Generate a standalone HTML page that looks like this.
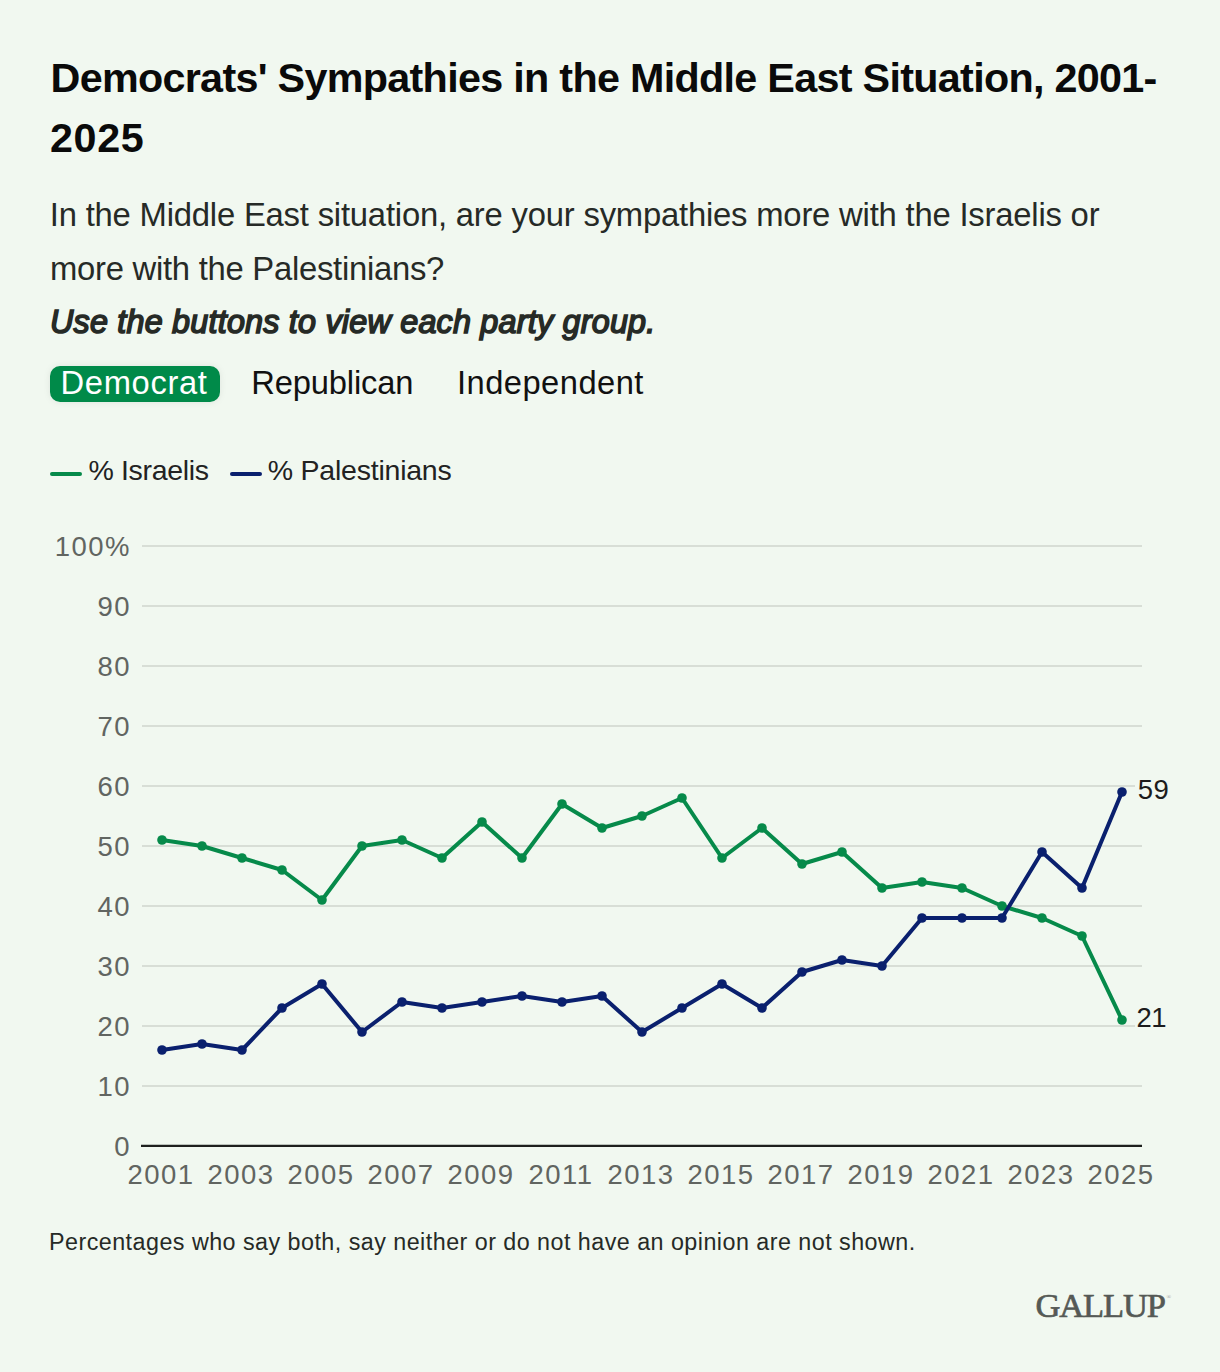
<!DOCTYPE html>
<html><head><meta charset="utf-8"><title>Democrats' Sympathies in the Middle East Situation, 2001-2025</title>
<style>html,body{margin:0;padding:0;background:#f1f8f0;}body{width:1220px;height:1372px;overflow:hidden;}svg{display:block;}</style>
</head><body>
<svg width="1220" height="1372" viewBox="0 0 1220 1372">
<defs><filter id="sh" x="-20%" y="-60%" width="140%" height="220%"><feDropShadow dx="0" dy="0" stdDeviation="3" flood-color="#000" flood-opacity="0.08"/></filter></defs>
<rect width="1220" height="1372" fill="#f1f8f0"/>
<line x1="142" y1="1086" x2="1142" y2="1086" stroke="#d8ded6" stroke-width="2"/>
<line x1="142" y1="1026" x2="1142" y2="1026" stroke="#d8ded6" stroke-width="2"/>
<line x1="142" y1="966" x2="1142" y2="966" stroke="#d8ded6" stroke-width="2"/>
<line x1="142" y1="906" x2="1142" y2="906" stroke="#d8ded6" stroke-width="2"/>
<line x1="142" y1="846" x2="1142" y2="846" stroke="#d8ded6" stroke-width="2"/>
<line x1="142" y1="786" x2="1142" y2="786" stroke="#d8ded6" stroke-width="2"/>
<line x1="142" y1="726" x2="1142" y2="726" stroke="#d8ded6" stroke-width="2"/>
<line x1="142" y1="666" x2="1142" y2="666" stroke="#d8ded6" stroke-width="2"/>
<line x1="142" y1="606" x2="1142" y2="606" stroke="#d8ded6" stroke-width="2"/>
<line x1="142" y1="546" x2="1142" y2="546" stroke="#d8ded6" stroke-width="2"/>
<line x1="141" y1="1145.9" x2="1142" y2="1145.9" stroke="#1e201e" stroke-width="2.2"/>
<polyline points="162,840 202,846 242,858 282,870 322,900 362,846 402,840 442,858 482,822 522,858 562,804 602,828 642,816 682,798 722,858 762,828 802,864 842,852 882,888 922,882 962,888 1002,906 1042,918 1082,936 1122,1020" fill="none" stroke="#068a4a" stroke-width="4" stroke-linejoin="round" stroke-linecap="round"/><circle cx="162" cy="840" r="4.8" fill="#068a4a"/><circle cx="202" cy="846" r="4.8" fill="#068a4a"/><circle cx="242" cy="858" r="4.8" fill="#068a4a"/><circle cx="282" cy="870" r="4.8" fill="#068a4a"/><circle cx="322" cy="900" r="4.8" fill="#068a4a"/><circle cx="362" cy="846" r="4.8" fill="#068a4a"/><circle cx="402" cy="840" r="4.8" fill="#068a4a"/><circle cx="442" cy="858" r="4.8" fill="#068a4a"/><circle cx="482" cy="822" r="4.8" fill="#068a4a"/><circle cx="522" cy="858" r="4.8" fill="#068a4a"/><circle cx="562" cy="804" r="4.8" fill="#068a4a"/><circle cx="602" cy="828" r="4.8" fill="#068a4a"/><circle cx="642" cy="816" r="4.8" fill="#068a4a"/><circle cx="682" cy="798" r="4.8" fill="#068a4a"/><circle cx="722" cy="858" r="4.8" fill="#068a4a"/><circle cx="762" cy="828" r="4.8" fill="#068a4a"/><circle cx="802" cy="864" r="4.8" fill="#068a4a"/><circle cx="842" cy="852" r="4.8" fill="#068a4a"/><circle cx="882" cy="888" r="4.8" fill="#068a4a"/><circle cx="922" cy="882" r="4.8" fill="#068a4a"/><circle cx="962" cy="888" r="4.8" fill="#068a4a"/><circle cx="1002" cy="906" r="4.8" fill="#068a4a"/><circle cx="1042" cy="918" r="4.8" fill="#068a4a"/><circle cx="1082" cy="936" r="4.8" fill="#068a4a"/><circle cx="1122" cy="1020" r="4.8" fill="#068a4a"/>
<polyline points="162,1050 202,1044 242,1050 282,1008 322,984 362,1032 402,1002 442,1008 482,1002 522,996 562,1002 602,996 642,1032 682,1008 722,984 762,1008 802,972 842,960 882,966 922,918 962,918 1002,918 1042,852 1082,888 1122,792" fill="none" stroke="#0a206e" stroke-width="4" stroke-linejoin="round" stroke-linecap="round"/><circle cx="162" cy="1050" r="4.8" fill="#0a206e"/><circle cx="202" cy="1044" r="4.8" fill="#0a206e"/><circle cx="242" cy="1050" r="4.8" fill="#0a206e"/><circle cx="282" cy="1008" r="4.8" fill="#0a206e"/><circle cx="322" cy="984" r="4.8" fill="#0a206e"/><circle cx="362" cy="1032" r="4.8" fill="#0a206e"/><circle cx="402" cy="1002" r="4.8" fill="#0a206e"/><circle cx="442" cy="1008" r="4.8" fill="#0a206e"/><circle cx="482" cy="1002" r="4.8" fill="#0a206e"/><circle cx="522" cy="996" r="4.8" fill="#0a206e"/><circle cx="562" cy="1002" r="4.8" fill="#0a206e"/><circle cx="602" cy="996" r="4.8" fill="#0a206e"/><circle cx="642" cy="1032" r="4.8" fill="#0a206e"/><circle cx="682" cy="1008" r="4.8" fill="#0a206e"/><circle cx="722" cy="984" r="4.8" fill="#0a206e"/><circle cx="762" cy="1008" r="4.8" fill="#0a206e"/><circle cx="802" cy="972" r="4.8" fill="#0a206e"/><circle cx="842" cy="960" r="4.8" fill="#0a206e"/><circle cx="882" cy="966" r="4.8" fill="#0a206e"/><circle cx="922" cy="918" r="4.8" fill="#0a206e"/><circle cx="962" cy="918" r="4.8" fill="#0a206e"/><circle cx="1002" cy="918" r="4.8" fill="#0a206e"/><circle cx="1042" cy="852" r="4.8" fill="#0a206e"/><circle cx="1082" cy="888" r="4.8" fill="#0a206e"/><circle cx="1122" cy="792" r="4.8" fill="#0a206e"/>
<rect x="1135" y="778" width="38" height="26" fill="#f1f8f0"/>
<rect x="1135" y="1006" width="38" height="26" fill="#f1f8f0"/>
<rect x="50" y="366" width="170" height="36" rx="10" fill="#068a4a" filter="url(#sh)"/>
<line x1="52" y1="474" x2="80" y2="474" stroke="#068a4a" stroke-width="4" stroke-linecap="round"/>
<line x1="232" y1="474" x2="260" y2="474" stroke="#0a206e" stroke-width="4" stroke-linecap="round"/>
<text x="50.5" y="91.8" fill="#0a0a0a" text-anchor="start" style="font-family:'Liberation Sans', Arial, sans-serif;font-size:41.3px;letter-spacing:-0.695px;font-weight:bold;">Democrats' Sympathies in the Middle East Situation, 2001-</text>
<text x="50.0" y="151.8" fill="#0a0a0a" text-anchor="start" style="font-family:'Liberation Sans', Arial, sans-serif;font-size:41.3px;letter-spacing:0.599px;font-weight:bold;">2025</text>
<text x="49.8" y="225.7" fill="#262a26" text-anchor="start" style="font-family:'Liberation Sans', Arial, sans-serif;font-size:32.8px;letter-spacing:-0.2px;">In the Middle East situation, are your sympathies more with the Israelis or</text>
<text x="50.0" y="279.8" fill="#262a26" text-anchor="start" style="font-family:'Liberation Sans', Arial, sans-serif;font-size:32.8px;letter-spacing:-0.258px;">more with the Palestinians?</text>
<text x="50.0" y="333.4" fill="#262a26" text-anchor="start" style="font-family:'Liberation Sans', Arial, sans-serif;font-size:32.3px;letter-spacing:0.23px;font-style:italic;stroke:#262a26;stroke-width:1.6px;">Use the buttons to view each party group.</text>
<text x="60.6" y="393.8" fill="#ffffff" text-anchor="start" style="font-family:'Liberation Sans', Arial, sans-serif;font-size:32.7px;letter-spacing:0.661px;">Democrat</text>
<text x="251.2" y="393.8" fill="#111111" text-anchor="start" style="font-family:'Liberation Sans', Arial, sans-serif;font-size:32.7px;letter-spacing:-0.136px;">Republican</text>
<text x="457.0" y="393.8" fill="#111111" text-anchor="start" style="font-family:'Liberation Sans', Arial, sans-serif;font-size:32.7px;letter-spacing:0.46px;">Independent</text>
<text x="88.4" y="479.9" fill="#222222" text-anchor="start" style="font-family:'Liberation Sans', Arial, sans-serif;font-size:28.5px;letter-spacing:-0.335px;">% Israelis</text>
<text x="267.8" y="479.9" fill="#222222" text-anchor="start" style="font-family:'Liberation Sans', Arial, sans-serif;font-size:28.5px;letter-spacing:-0.231px;">% Palestinians</text>
<text x="131" y="1155.6" fill="#616561" text-anchor="end" style="font-family:'Liberation Sans', Arial, sans-serif;font-size:27.5px;letter-spacing:1.5px;">0</text>
<text x="131" y="1095.6" fill="#616561" text-anchor="end" style="font-family:'Liberation Sans', Arial, sans-serif;font-size:27.5px;letter-spacing:1.5px;">10</text>
<text x="131" y="1035.6" fill="#616561" text-anchor="end" style="font-family:'Liberation Sans', Arial, sans-serif;font-size:27.5px;letter-spacing:1.5px;">20</text>
<text x="131" y="975.6" fill="#616561" text-anchor="end" style="font-family:'Liberation Sans', Arial, sans-serif;font-size:27.5px;letter-spacing:1.5px;">30</text>
<text x="131" y="915.6" fill="#616561" text-anchor="end" style="font-family:'Liberation Sans', Arial, sans-serif;font-size:27.5px;letter-spacing:1.5px;">40</text>
<text x="131" y="855.6" fill="#616561" text-anchor="end" style="font-family:'Liberation Sans', Arial, sans-serif;font-size:27.5px;letter-spacing:1.5px;">50</text>
<text x="131" y="795.6" fill="#616561" text-anchor="end" style="font-family:'Liberation Sans', Arial, sans-serif;font-size:27.5px;letter-spacing:1.5px;">60</text>
<text x="131" y="735.6" fill="#616561" text-anchor="end" style="font-family:'Liberation Sans', Arial, sans-serif;font-size:27.5px;letter-spacing:1.5px;">70</text>
<text x="131" y="675.6" fill="#616561" text-anchor="end" style="font-family:'Liberation Sans', Arial, sans-serif;font-size:27.5px;letter-spacing:1.5px;">80</text>
<text x="131" y="615.6" fill="#616561" text-anchor="end" style="font-family:'Liberation Sans', Arial, sans-serif;font-size:27.5px;letter-spacing:1.5px;">90</text>
<text x="131" y="555.6" fill="#616561" text-anchor="end" style="font-family:'Liberation Sans', Arial, sans-serif;font-size:27.5px;letter-spacing:1.5px;">100%</text>
<text x="161" y="1183.8" fill="#616561" text-anchor="middle" style="font-family:'Liberation Sans', Arial, sans-serif;font-size:27.5px;letter-spacing:1.5px;">2001</text>
<text x="241" y="1183.8" fill="#616561" text-anchor="middle" style="font-family:'Liberation Sans', Arial, sans-serif;font-size:27.5px;letter-spacing:1.5px;">2003</text>
<text x="321" y="1183.8" fill="#616561" text-anchor="middle" style="font-family:'Liberation Sans', Arial, sans-serif;font-size:27.5px;letter-spacing:1.5px;">2005</text>
<text x="401" y="1183.8" fill="#616561" text-anchor="middle" style="font-family:'Liberation Sans', Arial, sans-serif;font-size:27.5px;letter-spacing:1.5px;">2007</text>
<text x="481" y="1183.8" fill="#616561" text-anchor="middle" style="font-family:'Liberation Sans', Arial, sans-serif;font-size:27.5px;letter-spacing:1.5px;">2009</text>
<text x="561" y="1183.8" fill="#616561" text-anchor="middle" style="font-family:'Liberation Sans', Arial, sans-serif;font-size:27.5px;letter-spacing:1.5px;">2011</text>
<text x="641" y="1183.8" fill="#616561" text-anchor="middle" style="font-family:'Liberation Sans', Arial, sans-serif;font-size:27.5px;letter-spacing:1.5px;">2013</text>
<text x="721" y="1183.8" fill="#616561" text-anchor="middle" style="font-family:'Liberation Sans', Arial, sans-serif;font-size:27.5px;letter-spacing:1.5px;">2015</text>
<text x="801" y="1183.8" fill="#616561" text-anchor="middle" style="font-family:'Liberation Sans', Arial, sans-serif;font-size:27.5px;letter-spacing:1.5px;">2017</text>
<text x="881" y="1183.8" fill="#616561" text-anchor="middle" style="font-family:'Liberation Sans', Arial, sans-serif;font-size:27.5px;letter-spacing:1.5px;">2019</text>
<text x="961" y="1183.8" fill="#616561" text-anchor="middle" style="font-family:'Liberation Sans', Arial, sans-serif;font-size:27.5px;letter-spacing:1.5px;">2021</text>
<text x="1041" y="1183.8" fill="#616561" text-anchor="middle" style="font-family:'Liberation Sans', Arial, sans-serif;font-size:27.5px;letter-spacing:1.5px;">2023</text>
<text x="1121" y="1183.8" fill="#616561" text-anchor="middle" style="font-family:'Liberation Sans', Arial, sans-serif;font-size:27.5px;letter-spacing:1.5px;">2025</text>
<text x="1137.8" y="798.7" fill="#1c1c1c" text-anchor="start" style="font-family:'Liberation Sans', Arial, sans-serif;font-size:27.5px;letter-spacing:0.3px;">59</text>
<text x="1136.5" y="1026.7" fill="#1c1c1c" text-anchor="start" style="font-family:'Liberation Sans', Arial, sans-serif;font-size:27.5px;letter-spacing:-0.6px;">21</text>
<text x="49.0" y="1249.6" fill="#262a26" text-anchor="start" style="font-family:'Liberation Sans', Arial, sans-serif;font-size:23.3px;letter-spacing:0.468px;">Percentages who say both, say neither or do not have an opinion are not shown.</text>
<text x="1035.6" y="1317.2" fill="#555955" text-anchor="start" style="font-family:'Liberation Serif', 'Times New Roman', serif;font-size:34.5px;letter-spacing:-1.16px;stroke:#555955;stroke-width:0.7px;">GALLUP</text>
<text x="1166.5" y="1299" fill="#999" text-anchor="start" style="font-family:'Liberation Serif', 'Times New Roman', serif;font-size:6px;letter-spacing:0px;">®</text>
</svg>
</body></html>
